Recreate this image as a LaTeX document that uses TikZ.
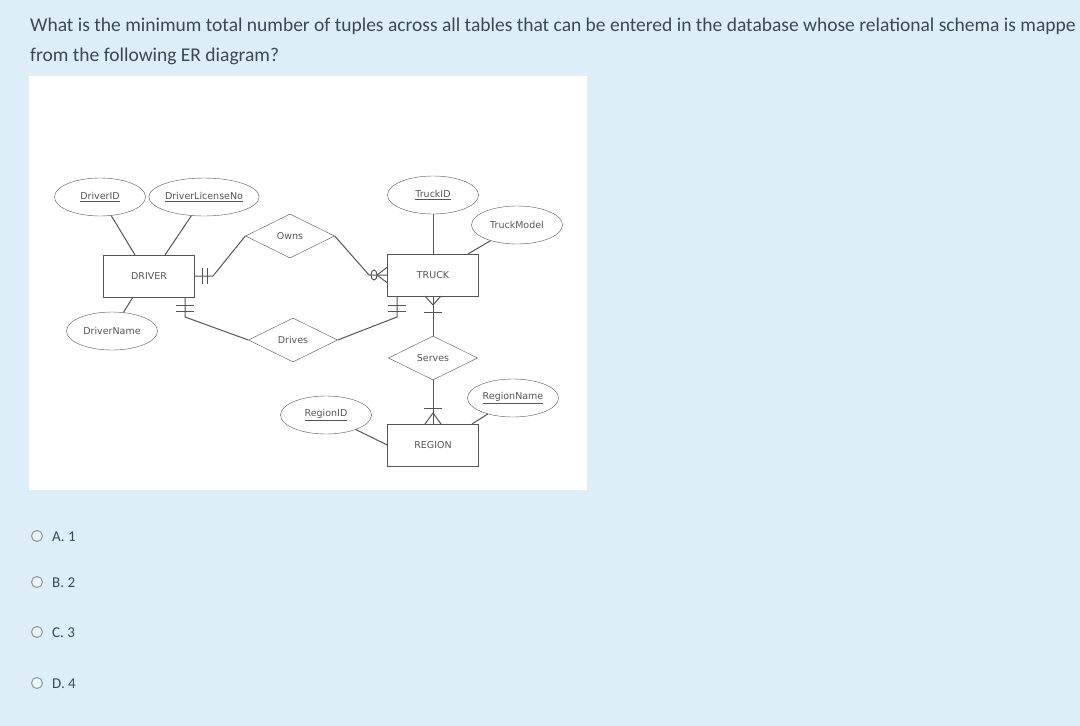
\documentclass[tikz,border=0pt]{standalone}
\usepackage{fontspec}
\setmainfont{Carlito}
\newfontfamily\erfont{DejaVu Sans}
\usetikzlibrary{shapes.geometric}
\definecolor{pagebg}{RGB}{221,238,248}
\definecolor{qtext}{RGB}{60,72,82}
\definecolor{erline}{RGB}{85,85,85}
\definecolor{radio}{RGB}{150,155,160}

\begin{document}
\begin{tikzpicture}[x=1pt,y=-1pt,
  entity/.style={draw=erline, rectangle, minimum width=91pt, minimum height=42pt,
    font=\erfont\fontsize{9.5}{11}\selectfont, text=erline},
  attr/.style={draw=erline, ellipse, minimum width=91pt, minimum height=38pt, inner sep=0pt,
    font=\erfont\fontsize{9.5}{11}\selectfont, text=erline},
  rel/.style={draw=erline, diamond, minimum width=89pt, minimum height=44pt, inner sep=0pt,
    font=\erfont\fontsize{9.5}{11}\selectfont, text=erline},
  conn/.style={draw=erline, line width=1pt},
  question/.style={anchor=base west, inner sep=0pt, text=qtext, font=\fontsize{19.5}{24}\selectfont},
  answer/.style={anchor=base west, inner sep=0pt, text=qtext, font=\fontsize{15}{18}\selectfont},
  radiobtn/.style={circle, draw=radio, line width=1.1pt, fill=white!40!pagebg, minimum size=11pt, inner sep=0pt}]
\useasboundingbox (0,0) rectangle (1080,726);
\fill[pagebg] (0,0) rectangle (1080,726);
\fill[white] (29,76) rectangle (587,490);

% question
\node[question] (q1) at (30,31) {What is the minimum total number of tuples across all tables that can be entered in the database whose relational schema is mappe};
\node[question] (q2) at (30,61) {from the following ER diagram?};

% entities
\node[entity] (driver) at (149,276) {DRIVER};
\node[entity] (truck) at (433,275) {TRUCK};
\node[entity] (region) at (433,445) {REGION};

% relationships
\node[rel] (owns) at (290,236) {Owns};
\node[rel] (drives) at (293,340) {Drives};
\node[rel] (serves) at (433,358) {Serves};

% attributes
\node[attr] (driverid) at (100,197) {\underline{DriverID}};
\node[attr] (licenseno) at (204,197) {\underline{DriverLicenseNo}};
\node[attr] (drivername) at (112,331) {DriverName};
\node[attr] (truckid) at (433,195) {\underline{TruckID}};
\node[attr] (truckmodel) at (517,225) {TruckModel};
\node[attr] (regionid) at (326,415) {\underline{RegionID}};
\node[attr] (regionname) at (513,398) {\underline{RegionName}};

% attribute links
\path[conn] (driverid) -- (135,255);
\path[conn] (licenseno) -- (165,255);
\path[conn] (drivername) -- (133,297);
\path[conn] (truckid) -- (truck);
\path[conn] (truckmodel) -- (468,254);
\path[conn] (regionid) -- (region.west);
\path[conn] (regionname) -- (472,424);

% relationship links
\coordinate (dob) at (213,276);
\coordinate (otb) at (369,275);
\coordinate (ddb) at (185,317);
\coordinate (dtb) at (397,317);
\path[conn] (driver.east) -- (dob) -- (owns.west);
\path[conn] (owns.east) -- (otb) -- (truck.west);
\path[conn] (driver.south -| ddb) -- (ddb) -- (drives.west);
\path[conn] (drives.east) -- (dtb) -- (dtb |- truck.south);
\path[conn] (truck.south) -- (serves.north);
\path[conn] (serves.south) -- (region.north);

% cardinality marks
\path[conn] (202,268) -- (202,284);
\path[conn] (207,268) -- (207,284);
\path[conn] (374,275) ellipse (3 and 5);
\path[conn] (377,275) -- (387.5,267);
\path[conn] (377,275) -- (387.5,283);
\path[conn] (176,305) -- (194,305);
\path[conn] (176,311) -- (194,311);
\path[conn] (388,305) -- (406,305);
\path[conn] (388,311) -- (406,311);
\path[conn] (433,305) -- (425,296);
\path[conn] (433,305) -- (441,296);
\path[conn] (424,312) -- (442,312);
\path[conn] (424,408) -- (442,408);
\path[conn] (433,413) -- (425,424);
\path[conn] (433,413) -- (441,424);

% answers
\node[radiobtn] (ra) at (37,536) {};
\node[radiobtn] (rb) at (37,582) {};
\node[radiobtn] (rc) at (37,632) {};
\node[radiobtn] (rd) at (37,683) {};
\node[answer] (a) at (52,541) {A. 1};
\node[answer] (b) at (52,587) {B. 2};
\node[answer] (c) at (52,637) {C. 3};
\node[answer] (d) at (52,688) {D. 4};
\end{tikzpicture}
\end{document}
